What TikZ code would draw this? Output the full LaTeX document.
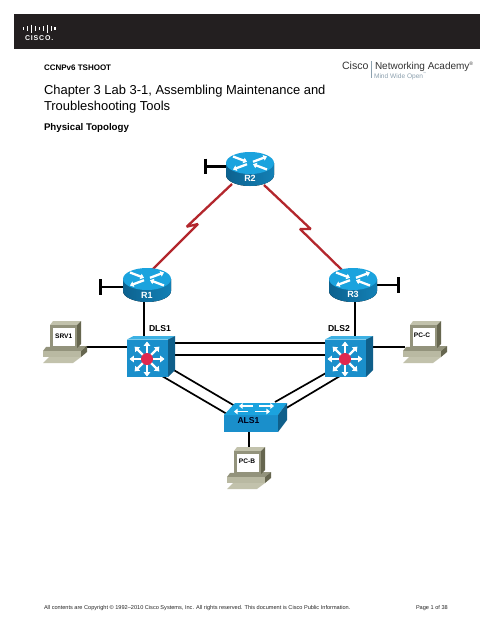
\documentclass[tikz,border=0pt]{standalone}
\usepackage{fontspec}
\setmainfont{Liberation Sans}
\usetikzlibrary{arrows.meta}
\definecolor{hdr}{HTML}{231F20}
\definecolor{ctop}{HTML}{1BA3DE}
\definecolor{cfront}{HTML}{1A8FCB}
\definecolor{cside}{HTML}{0F5F8A}
\definecolor{cbody}{HTML}{1380B5}
\definecolor{cbodyd}{HTML}{0D628F}
\definecolor{serialred}{HTML}{B3272D}
\definecolor{hub}{HTML}{E0284F}
\definecolor{pcm}{HTML}{93937C}
\definecolor{pcl}{HTML}{C2C2AC}
\definecolor{pcd}{HTML}{66664F}
\definecolor{acad}{HTML}{8CA0AE}
\tikzset{
  x=1pt,y=-1pt,
  txt/.style={anchor=base west,inner sep=0pt,outer sep=0pt,text=black},
  devbox/.style={inner sep=0pt,outer sep=0pt,draw=none,fill=none},
  wire/.style={draw=black,line width=1.7pt},
  serial/.style={draw=serialred,line width=2.3pt,line join=bevel},
  tee/.style={draw=black,line width=2.2pt},
  devlabel/.style={font=\bfseries\fontsize{8.6}{9}\selectfont,inner sep=0pt,text=black},
  rlabel/.style={font=\bfseries\fontsize{9}{9}\selectfont,inner sep=0pt,text=white},
  pclabel/.style={font=\bfseries\fontsize{6.6}{7}\selectfont,inner sep=0pt,text=black},
  warrow/.style={draw=white,line width=2.3pt,-{Triangle[length=3.6pt,width=5.6pt]}},
  sarrow/.style={draw=white,line width=2.4pt,-{Triangle[length=4.4pt,width=6.6pt]}},
  routerpic/.pic={
    \fill[left color=cbodyd,right color=cbody] (-24,11) -- (-24,23) arc[start angle=180,end angle=0,x radius=24,y radius=11] -- (24,11) -- cycle;
    \fill[ctop] (0,11) ellipse[x radius=24,y radius=11];
    \begin{scope}[shift={(0,11)}]
      \draw[warrow] (-17,-6.5) -- (-3,-1.2);
      \draw[warrow] (17,6.5) -- (3,1.2);
      \draw[warrow] (3,-1.2) -- (17,-6.5);
      \draw[warrow] (-3,1.2) -- (-17,6.5);
    \end{scope}
  },
  switchpic/.pic={
    \fill[cfront] (0,3.5) rectangle (41,41);
    \fill[ctop!85!white] (0,3.5) -- (6.5,0) -- (48,0) -- (41,3.5) -- cycle;
    \fill[cside] (41,3.5) -- (48,0) -- (48,34) -- (41,41) -- cycle;
    \begin{scope}[shift={(20,23)}]
      \foreach \a in {0,45,...,315}{\draw[sarrow] (0,0) -- (\a:17.5);}
      \fill[hub] (0,0) circle[radius=6];
    \end{scope}
  },
  alspic/.pic={
    \fill[cfront] (0,12) rectangle (54,29);
    \fill[ctop] (0,12) -- (11,0) -- (63,0) -- (54,12) -- cycle;
    \fill[cside] (54,12) -- (63,0) -- (63,17) -- (54,29) -- cycle;
    \draw[warrow,line width=1.5pt] (29,3) -- (15,3);
    \draw[warrow,line width=1.5pt] (35,3) -- (50,3);
    \draw[warrow,line width=1.5pt] (24,8.5) -- (10,8.5);
    \draw[warrow,line width=1.5pt] (31,8.5) -- (46,8.5);
  },
  pcpic/.pic={
    \fill[pcl] (0,42) -- (6,36) -- (38,36) -- (30,42) -- cycle;
    \fill[pcm] (3,26) -- (44,25) -- (38,30) -- (0,30) -- cycle;
    \fill[pcl!80!pcm] (0,30) rectangle (38,36);
    \fill[pcd] (38,30) -- (44,25) -- (44,31) -- (38,36) -- cycle;
    \fill[pcl] (7,4) -- (10,0) -- (38,0) -- (34,4) -- cycle;
    \fill[pcm] (7,4) rectangle (34,27);
    \fill[pcd] (34,4) -- (38,0) -- (38,23) -- (34,27) -- cycle;
    \fill[white] (10,7) rectangle (32,25);
  }
}
\begin{document}
\begin{tikzpicture}
\useasboundingbox (0,0) rectangle (495,640);
\fill[white] (0,0) rectangle (495,640);
% header
\fill[hdr] (14,14) rectangle (480,49);
\foreach \i/\h in {0/2.5,1/4.5,2/8,3/4.5,4/2.5,5/4.5,6/8,7/4.5,8/2.5}{
  \draw[white,line width=1.3pt] (23.5+\i*3.95,28.5-\h/2) -- (23.5+\i*3.95,28.5+\h/2);
}
\node[txt,text=white,font=\bfseries\fontsize{7}{7}\selectfont\addfontfeatures{LetterSpace=12}] (ciscologo) at (25,40) {CISCO.};
\node[txt,font=\bfseries\fontsize{8}{8}\selectfont] (course) at (44,70.5) {CCNPv6 TSHOOT};
\node[txt,font=\fontsize{12.95}{14}\selectfont] (title1) at (44,94) {Chapter 3 Lab 3-1, Assembling Maintenance and};
\node[txt,font=\fontsize{12.95}{14}\selectfont] (title2) at (44,110) {Troubleshooting Tools};
\node[txt,font=\bfseries\fontsize{9.7}{10}\selectfont] (phys) at (44,130.5) {Physical Topology};
\node[txt,font=\fontsize{10.6}{11}\selectfont,text=black!80] (acad1) at (342,69) {Cisco};
\node[txt,font=\fontsize{10}{11}\selectfont,text=black!80] (acad2) at (375,69) {Networking Academy\textsuperscript{\fontsize{5}{5}\selectfont ®}};
\node[txt,font=\fontsize{6.6}{7}\selectfont,text=acad] (acad3) at (374,78) {Mind Wide Open\textsuperscript{\fontsize{3}{3}\selectfont ™}};
\coordinate (sep1) at (371,61);
\coordinate (sep2) at (371,78);
\draw[acad,line width=.6pt] (sep1) -- (sep2);
\node[txt,font=\fontsize{5.6}{6}\selectfont,text=black!85] (foot1) at (44,609.5) {All contents are Copyright © 1992–2010 Cisco Systems, Inc. All rights reserved. This document is Cisco Public Information.};
\node[txt,font=\fontsize{5.6}{6}\selectfont,text=black!85] (foot2) at (416,609.5) {Page 1 of 38};
% free ends and attachment points
\coordinate (teeR2) at (205.5,166.5);
\coordinate (teeR2a) at (205.5,158.5);
\coordinate (teeR2b) at (205.5,174);
\coordinate (r2w) at (230,166.5);
\coordinate (teeR1) at (100.5,287);
\coordinate (teeR1a) at (100.5,279);
\coordinate (teeR1b) at (100.5,294.5);
\coordinate (r1w) at (127,287);
\coordinate (teeR3) at (398.5,285);
\coordinate (teeR3a) at (398.5,277);
\coordinate (teeR3b) at (398.5,293);
\coordinate (r3e) at (373,285);
\coordinate (s1a) at (232,184);
\coordinate (s1b) at (186.7,226.7);
\coordinate (s1c) at (198,224);
\coordinate (s1d) at (152,270);
\coordinate (s2a) at (264,185);
\coordinate (s2b) at (310.7,229);
\coordinate (s2c) at (300,229);
\coordinate (s2d) at (342,270);
\coordinate (r1s) at (144.3,300);
\coordinate (d1n) at (144.3,338);
\coordinate (r3s) at (355,300);
\coordinate (d2n) at (355,338);
\coordinate (srvE) at (85,346.7);
\coordinate (d1W) at (130,346.7);
\coordinate (pccW) at (405,346.7);
\coordinate (d2E) at (370,346.7);
\coordinate (dd1a) at (170,343);
\coordinate (dd1b) at (330,343);
\coordinate (dd2a) at (170,355);
\coordinate (dd2b) at (330,355);
\coordinate (da1a) at (172,369);
\coordinate (da1b) at (235,406);
\coordinate (da2a) at (162,376);
\coordinate (da2b) at (227,414);
\coordinate (db1a) at (326,373);
\coordinate (db1b) at (275,402);
\coordinate (db2a) at (340,376);
\coordinate (db2b) at (283,410);
\coordinate (alsS) at (249,430);
\coordinate (pcbN) at (249,449);
% connectors
\draw[tee] (r2w) -- (teeR2);
\draw[tee] (teeR2a) -- (teeR2b);
\draw[tee] (r1w) -- (teeR1);
\draw[tee] (teeR1a) -- (teeR1b);
\draw[tee] (r3e) -- (teeR3);
\draw[tee] (teeR3a) -- (teeR3b);
\draw[serial] (s1a) -- (s1b) -- (s1c) -- (s1d);
\draw[serial] (s2a) -- (s2b) -- (s2c) -- (s2d);
\draw[wire] (r1s) -- (d1n);
\draw[wire] (r3s) -- (d2n);
\draw[wire] (srvE) -- (d1W);
\draw[wire] (pccW) -- (d2E);
\draw[wire] (dd1a) -- (dd1b);
\draw[wire] (dd2a) -- (dd2b);
\draw[wire] (da1a) -- (da1b);
\draw[wire] (da2a) -- (da2b);
\draw[wire] (db1a) -- (db1b);
\draw[wire] (db2a) -- (db2b);
\draw[wire] (alsS) -- (pcbN);
% devices
\pic at (250,152) {routerpic};
\pic at (147,268) {routerpic};
\pic at (353,268) {routerpic};
\pic at (127,336) {switchpic};
\pic at (325,336) {switchpic};
\pic at (224,403) {alspic};
\pic at (43,321) {pcpic};
\pic at (403,321) {pcpic};
\pic at (227,447) {pcpic};
% labels
\node[rlabel] (R2) at (250,178.5) {R2};
\node[rlabel] (R1) at (147,295) {R1};
\node[rlabel] (R3) at (353,294) {R3};
\node[devlabel] (DLS1) at (160,329) {DLS1};
\node[devlabel] (DLS2) at (339,329) {DLS2};
\node[devlabel,text=black!90!blue] (ALS1) at (248.5,421) {ALS1};
\node[pclabel] (SRV1) at (63.7,336) {SRV1};
\node[pclabel] (PCC) at (422,335) {PC-C};
\node[pclabel] (PCB) at (247,461) {PC-B};
\end{tikzpicture}
\end{document}
